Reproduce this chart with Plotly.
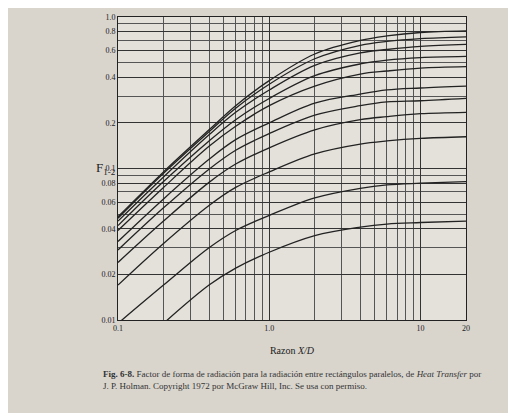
import math
import plotly.graph_objects as go

# Razon X/D sample points
xd = [0.1, 0.2, 0.4, 0.6, 1.0, 2.0, 4.0, 6.0, 10.0, 20.0]

# F1-2 for each Y/D curve
f_10 = [0.048, 0.095, 0.18, 0.26, 0.38, 0.57, 0.70, 0.75, 0.79, 0.81]
f_5 = [0.047, 0.093, 0.175, 0.25, 0.36, 0.53, 0.65, 0.69, 0.72, 0.74]
f_3 = [0.045, 0.088, 0.167, 0.235, 0.33, 0.48, 0.58, 0.61, 0.64, 0.66]
f_2 = [0.042, 0.082, 0.152, 0.21, 0.29, 0.41, 0.49, 0.52, 0.54, 0.55]
f_15 = [0.039, 0.075, 0.14, 0.19, 0.26, 0.35, 0.42, 0.44, 0.46, 0.47]
f_1 = [0.033, 0.063, 0.115, 0.155, 0.20, 0.27, 0.31, 0.33, 0.34, 0.35]
f_08 = [0.029, 0.055, 0.099, 0.132, 0.17, 0.225, 0.26, 0.275, 0.28, 0.29]
f_06 = [0.024, 0.045, 0.081, 0.107, 0.137, 0.18, 0.21, 0.22, 0.23, 0.235]
f_04 = [0.017, 0.032, 0.057, 0.075, 0.095, 0.125, 0.145, 0.152, 0.158, 0.162]
f_02 = [0.0095, 0.017, 0.030, 0.039, 0.049, 0.064, 0.074, 0.078, 0.080, 0.082]
f_01 = [0.005, 0.0095, 0.017, 0.022, 0.028, 0.036, 0.041, 0.043, 0.044, 0.045]

curves = [("Razon <i>Y/D</i> = 10", f_10), ("5", f_5), ("3", f_3), ("2", f_2), ("1.5", f_15),
          ("1.0", f_1), ("0.8", f_08), ("0.6", f_06), ("0.4", f_04), ("0.2", f_02), ("0.1", f_01)]

y_ticks = [0.01, 0.02, 0.04, 0.06, 0.08, 0.1, 0.2, 0.4, 0.6, 0.8, 1.0]
y_labels = ["0.01", "0.02", "0.04", "0.06", "0.08", "0.1", "0.2", "0.4", "0.6", "0.8", "1.0"]
x_ticks = [0.1, 1.0, 10, 20]
x_labels = ["0.1", "1.0", "10", "20"]

fig = go.Figure()
for name, vals in curves:
    fig.add_trace(go.Scatter(x=xd, y=vals, mode="lines", line=dict(color="#222", width=1.3, shape="spline"),
                             showlegend=False))
    fig.add_annotation(x=math.log10(20), y=math.log10(vals[-1]), xref="x", yref="y", yshift=6, text=name,
                       showarrow=False, xanchor="right", bgcolor="#e4e1da",
                       font=dict(size=8, color="#222", family="Liberation Serif"))

fig.add_annotation(x=-0.07, y=-1, xref="paper", yref="y", text="F<sub>1-2</sub>", showarrow=False,
                   font=dict(size=13, color="#222", family="Liberation Serif"))
fig.add_annotation(x=0.5, y=-0.24, xref="paper", yref="paper", showarrow=False, align="left",
                   font=dict(size=9, color="#333", family="Liberation Serif"),
                   text="<b>Fig. 6-8.</b> Factor de forma de radiación para la radiación entre rectángulos paralelos, de <i>Heat Transfer</i> por<br>"
                        "J. P. Holman. Copyright 1972 por McGraw Hill, Inc. Se usa con permiso.")

fig.update_xaxes(type="log", range=[-1, 1.301], tickvals=x_ticks, ticktext=x_labels,
                 showgrid=True, gridcolor="#333", gridwidth=0.6,
                 minor=dict(dtick="D1", showgrid=True, gridcolor="#555", gridwidth=0.5),
                 linecolor="#222", mirror=True, showline=True,
                 title=dict(text="Razon <i>X/D</i>", font=dict(size=10, family="Liberation Serif")),
                 tickfont=dict(size=8, family="Liberation Serif"))
fig.update_yaxes(type="log", range=[-2, 0], tickvals=y_ticks, ticktext=y_labels,
                 showgrid=True, gridcolor="#333", gridwidth=0.6,
                 minor=dict(dtick="D1", showgrid=True, gridcolor="#555", gridwidth=0.5),
                 linecolor="#222", mirror=True, showline=True,
                 tickfont=dict(size=8, family="Liberation Serif"))
fig.update_layout(width=516, height=413, paper_bgcolor="#d9d5cd", plot_bgcolor="#e4e1da",
                  margin=dict(l=110, r=58, t=5, b=101), font=dict(color="#222"))
fig.write_html("out.html")
